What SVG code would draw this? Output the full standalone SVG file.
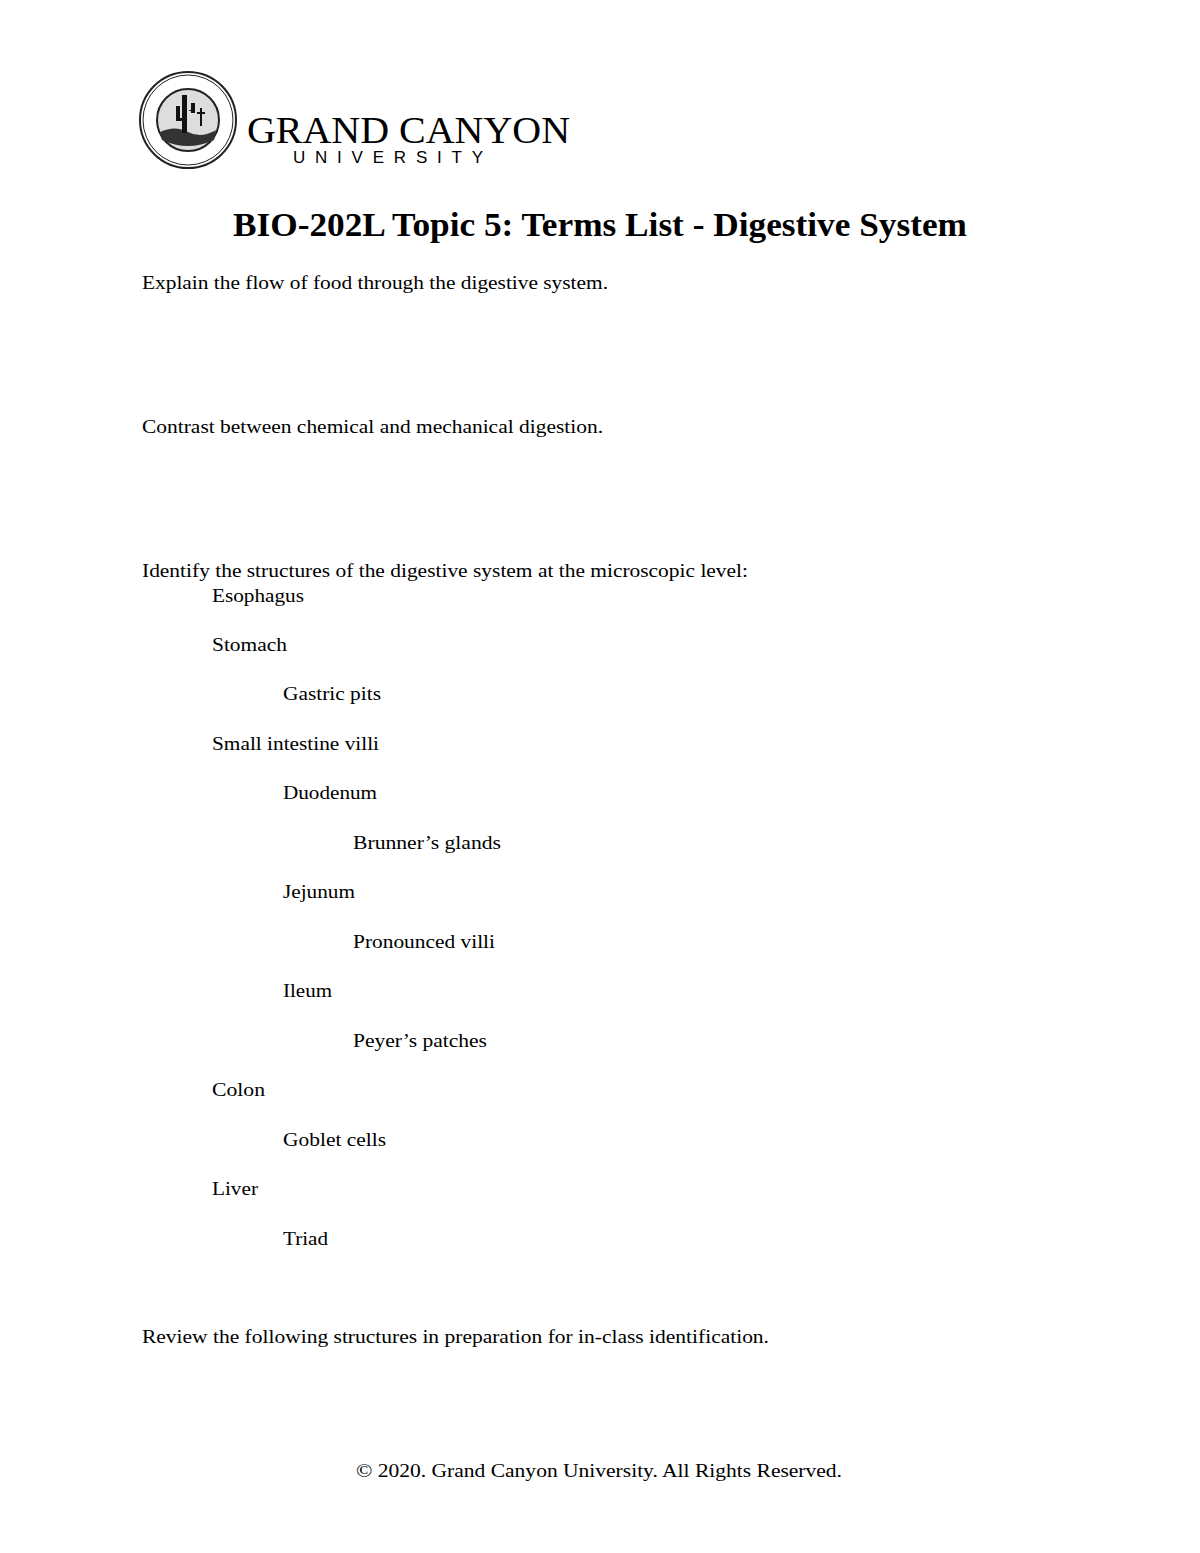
<svg xmlns="http://www.w3.org/2000/svg" width="1200" height="1553" viewBox="0 0 1200 1553">
<style>
.t{font-family:"Liberation Serif",serif;font-size:19px;fill:#000}
.h{font-family:"Liberation Serif",serif;font-size:33px;font-weight:bold;fill:#000}
</style>
<rect width="1200" height="1553" fill="#fff"/>
<g id="logo">
<circle cx="188" cy="120" r="48" fill="none" stroke="#222" stroke-width="2"/>
<circle cx="188" cy="120" r="45" fill="none" stroke="#222" stroke-width="1"/>
<circle cx="188" cy="120" r="31" fill="#ddd" stroke="#222" stroke-width="2"/>
<path d="M160 132 Q175 125 188 132 T216 130 L214 140 Q188 152 162 140 Z" fill="#333"/>
<path d="M182 95 h5 v38 h-5 Z M176 106 h4 v12 h6 v3 h-10 Z M188 110 h7 v3 h-4 v-10 h4 v10" fill="#111"/>
<path d="M201 108 v18 M197 113 h8" stroke="#111" stroke-width="2"/>
<text x="247" y="143" font-family="Liberation Serif,serif" font-size="38" textLength="323" lengthAdjust="spacingAndGlyphs">GRAND CANYON</text>
<text x="293" y="163" font-family="Liberation Sans,sans-serif" font-size="17" textLength="190" lengthAdjust="spacing">UNIVERSITY</text>
</g>
<text class="h" x="233" y="236" textLength="734" lengthAdjust="spacingAndGlyphs">BIO-202L Topic 5: Terms List - Digestive System</text>
<text class="t" x="142" y="289" textLength="466" lengthAdjust="spacingAndGlyphs">Explain the flow of food through the digestive system.</text>
<text class="t" x="142" y="433" textLength="461" lengthAdjust="spacingAndGlyphs">Contrast between chemical and mechanical digestion.</text>
<text class="t" x="142" y="577" textLength="606" lengthAdjust="spacingAndGlyphs">Identify the structures of the digestive system at the microscopic level:</text>
<text class="t" x="212" y="602" textLength="92" lengthAdjust="spacingAndGlyphs">Esophagus</text>
<text class="t" x="212" y="651" textLength="75" lengthAdjust="spacingAndGlyphs">Stomach</text>
<text class="t" x="283" y="700" textLength="98" lengthAdjust="spacingAndGlyphs">Gastric pits</text>
<text class="t" x="212" y="750" textLength="167" lengthAdjust="spacingAndGlyphs">Small intestine villi</text>
<text class="t" x="283" y="799" textLength="94" lengthAdjust="spacingAndGlyphs">Duodenum</text>
<text class="t" x="353" y="849" textLength="148" lengthAdjust="spacingAndGlyphs">Brunner’s glands</text>
<text class="t" x="283" y="898" textLength="72" lengthAdjust="spacingAndGlyphs">Jejunum</text>
<text class="t" x="353" y="948" textLength="142" lengthAdjust="spacingAndGlyphs">Pronounced villi</text>
<text class="t" x="283" y="997" textLength="49" lengthAdjust="spacingAndGlyphs">Ileum</text>
<text class="t" x="353" y="1047" textLength="134" lengthAdjust="spacingAndGlyphs">Peyer’s patches</text>
<text class="t" x="212" y="1096" textLength="53" lengthAdjust="spacingAndGlyphs">Colon</text>
<text class="t" x="283" y="1146" textLength="103" lengthAdjust="spacingAndGlyphs">Goblet cells</text>
<text class="t" x="212" y="1195" textLength="46" lengthAdjust="spacingAndGlyphs">Liver</text>
<text class="t" x="283" y="1245" textLength="45" lengthAdjust="spacingAndGlyphs">Triad</text>
<text class="t" x="142" y="1343" textLength="627" lengthAdjust="spacingAndGlyphs">Review the following structures in preparation for in-class identification.</text>
<text class="t" x="356" y="1477" textLength="486" lengthAdjust="spacingAndGlyphs">© 2020. Grand Canyon University. All Rights Reserved.</text>
</svg>
